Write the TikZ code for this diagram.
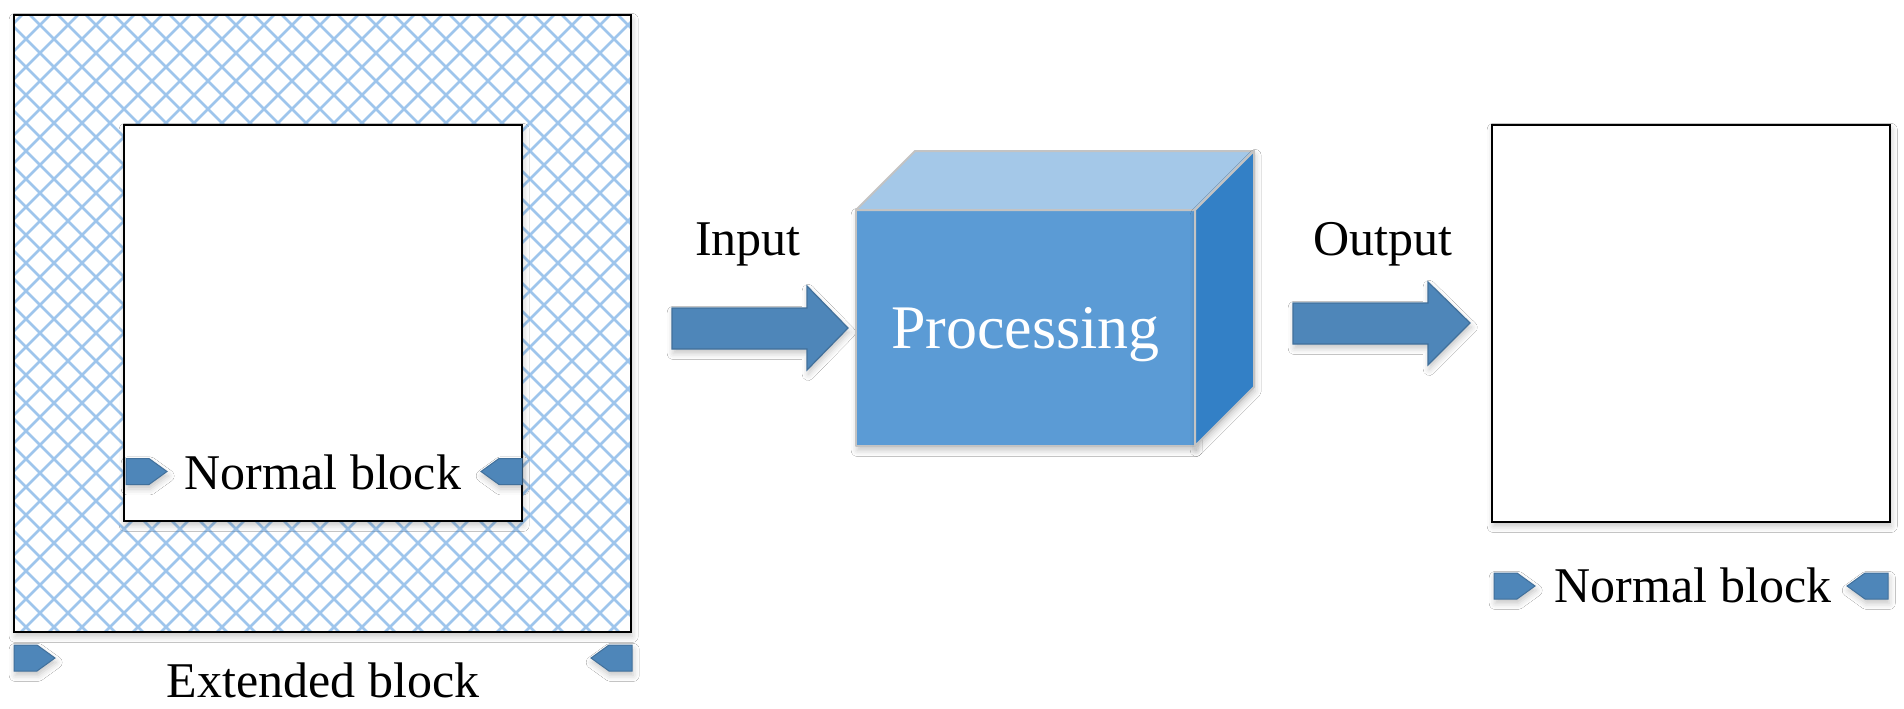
\documentclass[tikz,border=0pt]{standalone}
\usepackage{fontspec}
\setmainfont{Liberation Serif}
\usetikzlibrary{shadows.blur}
\definecolor{arrowfill}{HTML}{4E86B9}
\definecolor{arrowedge}{HTML}{41709B}
\definecolor{hatch}{HTML}{9EC5EC}
\definecolor{cubefront}{HTML}{5B9BD5}
\definecolor{cubetop}{HTML}{A4C8E8}
\definecolor{cuberight}{HTML}{3380C6}
\definecolor{cubeedge}{HTML}{C3C3C3}
\begin{document}
\begin{tikzpicture}[x=0.5pt,y=-0.5pt,
  softshadow/.style={blur shadow={shadow xshift=0.6pt,shadow yshift=-2.2pt,shadow blur radius=3pt,shadow opacity=22}},
  blockbox/.style={draw=black,line width=1.1pt,fill=white,softshadow},
  bigarrow/.style={fill=arrowfill,draw=arrowedge,line width=0.6pt,line join=miter,softshadow},
  markstyle/.style={fill=arrowfill,draw=arrowedge,line width=0.5pt,softshadow},
  lbl/.style={font=\fontsize{25}{30}\selectfont,anchor=base,inner sep=0pt},
  cubeface/.style={draw=cubeedge,line width=1pt,line join=round},
  markerR/.pic={\draw[markstyle] (0,-13) -- (23,-13) -- (41,0) -- (23,13) -- (0,13) -- cycle;},
  markerL/.pic={\draw[markstyle] (0,-13) -- (-23,-13) -- (-41,0) -- (-23,13) -- (0,13) -- cycle;}
]
\useasboundingbox (0,0) rectangle (1904,708);
\fill[white] (0,0) rectangle (1904,708);

% Extended block with hatch
\draw[blockbox] (14,15) rectangle (631,632);
\begin{scope}
  \clip (14,15) rectangle (631,632);
  \foreach \c in {-685,-657,...,631} \draw[hatch,line width=1.3pt] (\c,0) -- ++(720,720);
  \foreach \c in {9,37,...,1353} \draw[hatch,line width=1.3pt] (\c,0) -- ++(-720,720);
\end{scope}
\draw[line width=1.1pt] (14,15) rectangle (631,632);

% Inner normal block
\draw[blockbox] (124,125) rectangle (522,521);
\pic at (126,471.5) {markerR};
\pic at (522,471.5) {markerL};
\node[lbl] (innerlbl) at (323,489) {Normal block};

% Extended label
\pic at (14,658) {markerR};
\pic at (632,658) {markerL};
\node[lbl] (extlbl) at (323,697) {Extended block};

% Input arrow
\draw[bigarrow] (672,308) -- (807,308) -- (807,286) -- (848,328) -- (807,370) -- (807,349) -- (672,349) -- cycle;
\node[lbl] (inlbl) at (748,255) {Input};

% Cube
\draw[cubeface,fill=cubefront,softshadow] (856,210) rectangle (1195,446);
\draw[cubeface,fill=cubetop] (856,210) -- (915,151) -- (1254,151) -- (1195,210) -- cycle;
\draw[cubeface,fill=cuberight,softshadow] (1195,210) -- (1254,151) -- (1254,387) -- (1195,446) -- cycle;
\node[lbl,font=\fontsize{31}{37}\selectfont,text=white] (proc) at (1025.5,348) {Processing};

% Output arrow
\draw[bigarrow] (1293,303) -- (1428,303) -- (1428,282) -- (1470,323) -- (1428,365) -- (1428,344) -- (1293,344) -- cycle;
\node[lbl] (outlbl) at (1383,255) {Output};

% Right normal block
\draw[blockbox] (1492,125) rectangle (1890,522);
\pic at (1494,586) {markerR};
\pic at (1888,586) {markerL};
\node[lbl] (rightlbl) at (1693,602) {Normal block};
\end{tikzpicture}
\end{document}
